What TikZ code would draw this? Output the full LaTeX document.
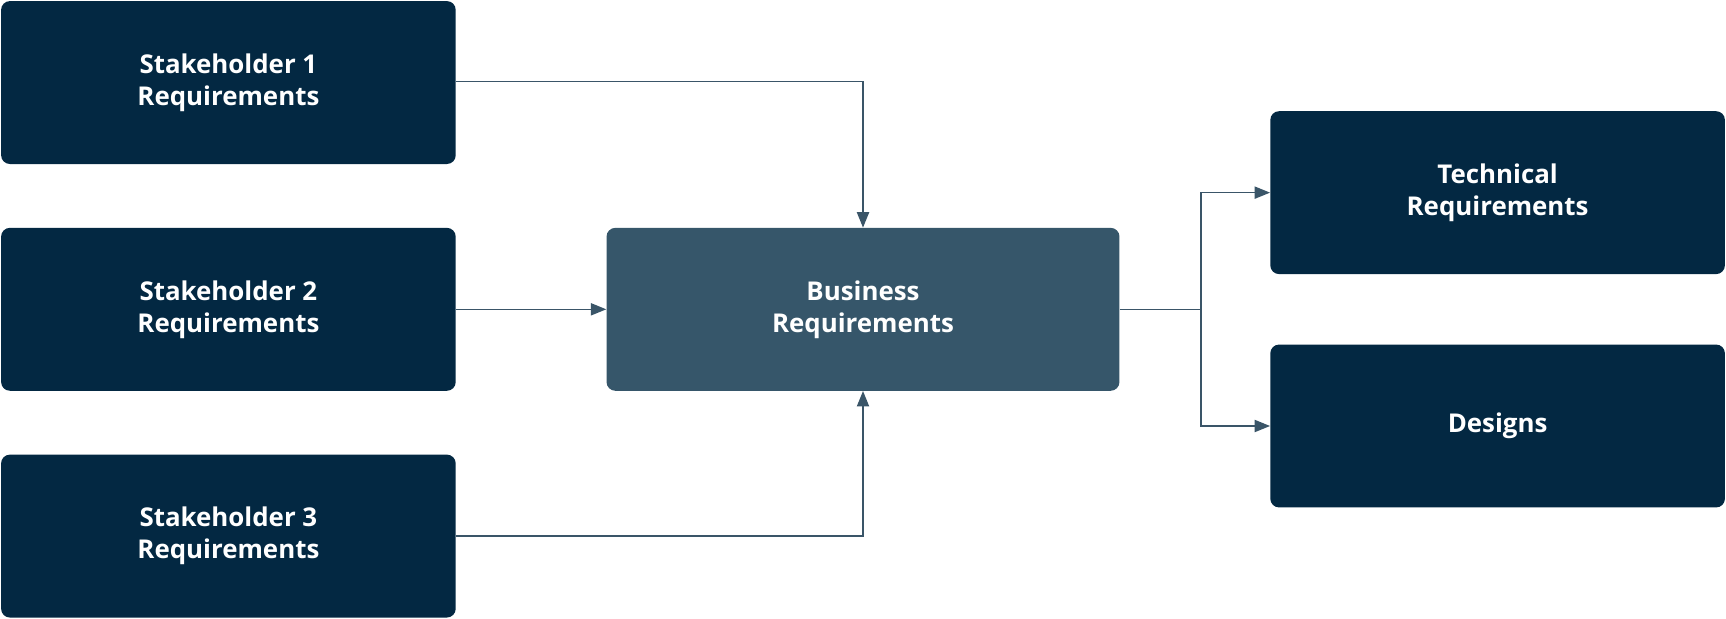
\documentclass[tikz,border=0pt]{standalone}
\usepackage{fontspec}
\setmainfont{Open Sans}
\usetikzlibrary{arrows.meta}
\definecolor{dark}{HTML}{032842}
\definecolor{mid}{HTML}{36566A}
\definecolor{line}{HTML}{3A5568}
\begin{document}
\begin{tikzpicture}[x=1pt,y=-1pt,
  box/.style={fill=dark,rounded corners=8pt,draw=none,minimum width=413pt,minimum height=148pt,text=white,font=\fontsize{23.5}{29}\selectfont\bfseries,align=center,inner sep=0pt},
  conn/.style={draw=line,line width=1.4pt,-{Triangle[length=14pt,width=11pt]}}]
\useasboundingbox (0,0) rectangle (1568,562);
\node[box] (s1) at (207.5,75) {Stakeholder 1\\Requirements};
\node[box] (s2) at (207.5,281) {Stakeholder 2\\Requirements};
\node[box] (s3) at (207.5,487) {Stakeholder 3\\Requirements};
\node[box,fill=mid,minimum width=466pt] (b) at (784,281) {Business\\Requirements};
\node[box] (t) at (1360.5,175) {Technical\\Requirements};
\node[box] (d) at (1360.5,387) {Designs};
\coordinate (j) at (1091,281);
\draw[conn] (s1.east |- 0,74) -| (b.north);
\draw[conn] (s2.east) -- (b.west);
\draw[conn] (s3.east) -| (b.south);
\draw[draw=line,line width=1.4pt] (b.east) -- (j);
\draw[conn] (j) |- (t.west);
\draw[conn] (j) |- (d.west);
\end{tikzpicture}
\end{document}
